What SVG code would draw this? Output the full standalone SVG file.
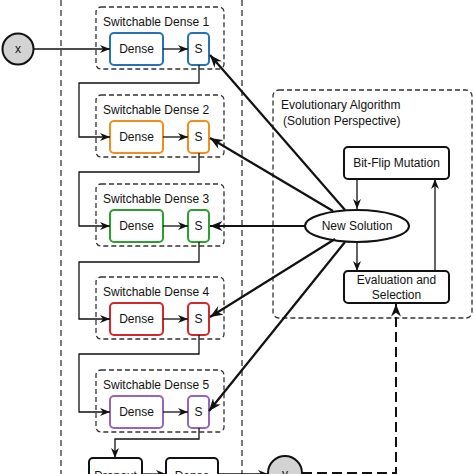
<svg xmlns="http://www.w3.org/2000/svg" width="474" height="474" viewBox="0 0 474 474">
<style>
text{font-family:"Liberation Sans",Arial,sans-serif;font-size:12px;fill:#111}
.grp{fill:none;stroke:#333;stroke-width:1.3;stroke-dasharray:5 3}
.box{fill:#fff;stroke-width:2}
.blk{fill:#fff;stroke:#111;stroke-width:2}
.c{stroke:#111;stroke-width:1.3;fill:none}
.t{stroke:#111;stroke-width:2.2;fill:none}
.mid{text-anchor:middle}
</style>
<defs>
<marker id="a" viewBox="0 0 10 8" refX="10" refY="4" markerWidth="10" markerHeight="8" markerUnits="userSpaceOnUse" orient="auto"><path d="M0,0 L10,4 L0,8 L3,4 z" fill="#111"/></marker>
<marker id="b" viewBox="0 0 10 8" refX="10" refY="4" markerWidth="13" markerHeight="10" markerUnits="userSpaceOnUse" orient="auto"><path d="M0,0 L10,4 L0,8 L3,4 z" fill="#111"/></marker>
</defs>
<rect width="474" height="474" fill="#fff"/>
<g id="container">
<line x1="61" y1="0" x2="61" y2="474" stroke="#333" stroke-width="1.3" stroke-dasharray="6 4"/>
<line x1="242" y1="0" x2="242" y2="474" stroke="#333" stroke-width="1.3" stroke-dasharray="6 4"/>
</g>
<g id="x-input"><circle cx="18" cy="49" r="15.5" fill="#d3d3d3" stroke="#111" stroke-width="2"/><text x="18" y="53" class="mid">x</text></g>
<g id="sd1"><rect class="grp" x="96" y="7" width="128" height="62" rx="5"/><text x="103" y="26">Switchable Dense 1</text>
<rect class="box" x="110" y="33" width="53" height="32" rx="4" stroke="#2474b5"/><text x="136.5" y="53" class="mid">Dense</text>
<rect class="box" x="188" y="33" width="21" height="32" rx="4" stroke="#2474b5"/><text x="198.5" y="53" class="mid">S</text></g>
<g id="sd2"><rect class="grp" x="96" y="95" width="128" height="62" rx="5"/><text x="103" y="114">Switchable Dense 2</text>
<rect class="box" x="110" y="121" width="53" height="32" rx="4" stroke="#f28e1c"/><text x="136.5" y="141" class="mid">Dense</text>
<rect class="box" x="188" y="121" width="21" height="32" rx="4" stroke="#f28e1c"/><text x="198.5" y="141" class="mid">S</text></g>
<g id="sd3"><rect class="grp" x="96" y="184" width="128" height="62" rx="5"/><text x="103" y="203">Switchable Dense 3</text>
<rect class="box" x="110" y="210" width="53" height="32" rx="4" stroke="#2ca02c"/><text x="136.5" y="230" class="mid">Dense</text>
<rect class="box" x="188" y="210" width="21" height="32" rx="4" stroke="#2ca02c"/><text x="198.5" y="230" class="mid">S</text></g>
<g id="sd4"><rect class="grp" x="96" y="277" width="128" height="62" rx="5"/><text x="103" y="296">Switchable Dense 4</text>
<rect class="box" x="110" y="303" width="53" height="32" rx="4" stroke="#d62728"/><text x="136.5" y="323" class="mid">Dense</text>
<rect class="box" x="188" y="303" width="21" height="32" rx="4" stroke="#d62728"/><text x="198.5" y="323" class="mid">S</text></g>
<g id="sd5"><rect class="grp" x="96" y="370" width="128" height="62" rx="5"/><text x="103" y="389">Switchable Dense 5</text>
<rect class="box" x="110" y="396" width="53" height="32" rx="4" stroke="#9467bd"/><text x="136.5" y="416" class="mid">Dense</text>
<rect class="box" x="188" y="396" width="21" height="32" rx="4" stroke="#9467bd"/><text x="198.5" y="416" class="mid">S</text></g>
<g id="dropout"><rect class="blk" x="89" y="458" width="53" height="32" rx="4"/><text x="115.5" y="480" class="mid">Dropout</text></g>
<g id="dense-out"><rect class="blk" x="166" y="458" width="52" height="32" rx="4"/><text x="192" y="480" class="mid">Dense</text></g>
<g id="y-output"><circle cx="285" cy="473" r="17" fill="#d3d3d3" stroke="#111" stroke-width="2"/><text x="285" y="478" class="mid">y</text></g>
<g id="ea"><rect class="grp" x="273" y="90" width="199" height="228" rx="6"/><text x="281" y="109">Evolutionary Algorithm</text><text x="283" y="125">(Solution Perspective)</text></g>
<g id="mutation"><rect class="blk" x="344" y="147" width="105" height="32" rx="4"/><text x="396.5" y="167" class="mid">Bit-Flip Mutation</text></g>
<g id="new-solution"><ellipse cx="357" cy="226" rx="52" ry="16" fill="#fff" stroke="#111" stroke-width="2"/><text x="357" y="230" class="mid">New Solution</text></g>
<g id="evaluation"><rect class="blk" x="344" y="271" width="105" height="32" rx="4"/><text x="396.5" y="284" class="mid">Evaluation and</text><text x="396.5" y="299" class="mid">Selection</text></g>
<g id="connectors">
<path class="c" d="M34,49 H110" marker-end="url(#a)"/>
<path class="c" d="M163,49 H188" marker-end="url(#a)"/>
<path class="c" d="M163,137 H188" marker-end="url(#a)"/>
<path class="c" d="M163,226 H188" marker-end="url(#a)"/>
<path class="c" d="M163,319 H188" marker-end="url(#a)"/>
<path class="c" d="M163,412 H188" marker-end="url(#a)"/>
<path class="c" d="M199,65 V83 H79 V137 H110" marker-end="url(#a)"/>
<path class="c" d="M199,153 V172 H79 V226 H110" marker-end="url(#a)"/>
<path class="c" d="M199,242 V262 H79 V319 H110" marker-end="url(#a)"/>
<path class="c" d="M199,335 V354 H79 V412 H110" marker-end="url(#a)"/>
<path class="c" d="M199,428 V439 H115 V458" marker-end="url(#a)"/>
<path class="c" d="M142,474 H166" marker-end="url(#a)"/>
<path class="c" d="M218,474 H268" marker-end="url(#a)"/>
<path class="t" d="M345,210 L210,55" marker-end="url(#b)"/>
<path class="t" d="M333,211 L210,138" marker-end="url(#b)"/>
<path class="t" d="M305,226 L210,226" marker-end="url(#b)"/>
<path class="t" d="M335,239 L210,317" marker-end="url(#b)"/>
<path class="t" d="M345,242 L209,411" marker-end="url(#b)"/>
<path class="c" d="M357,179 V209" marker-end="url(#a)"/>
<path class="c" d="M357,242 V271" marker-end="url(#a)"/>
<path class="c" d="M435,271 V179" marker-end="url(#a)"/>
<path d="M302,473 H396 V304" fill="none" stroke="#111" stroke-width="2" stroke-dasharray="10 5" marker-end="url(#b)"/>
</g>
</svg>
